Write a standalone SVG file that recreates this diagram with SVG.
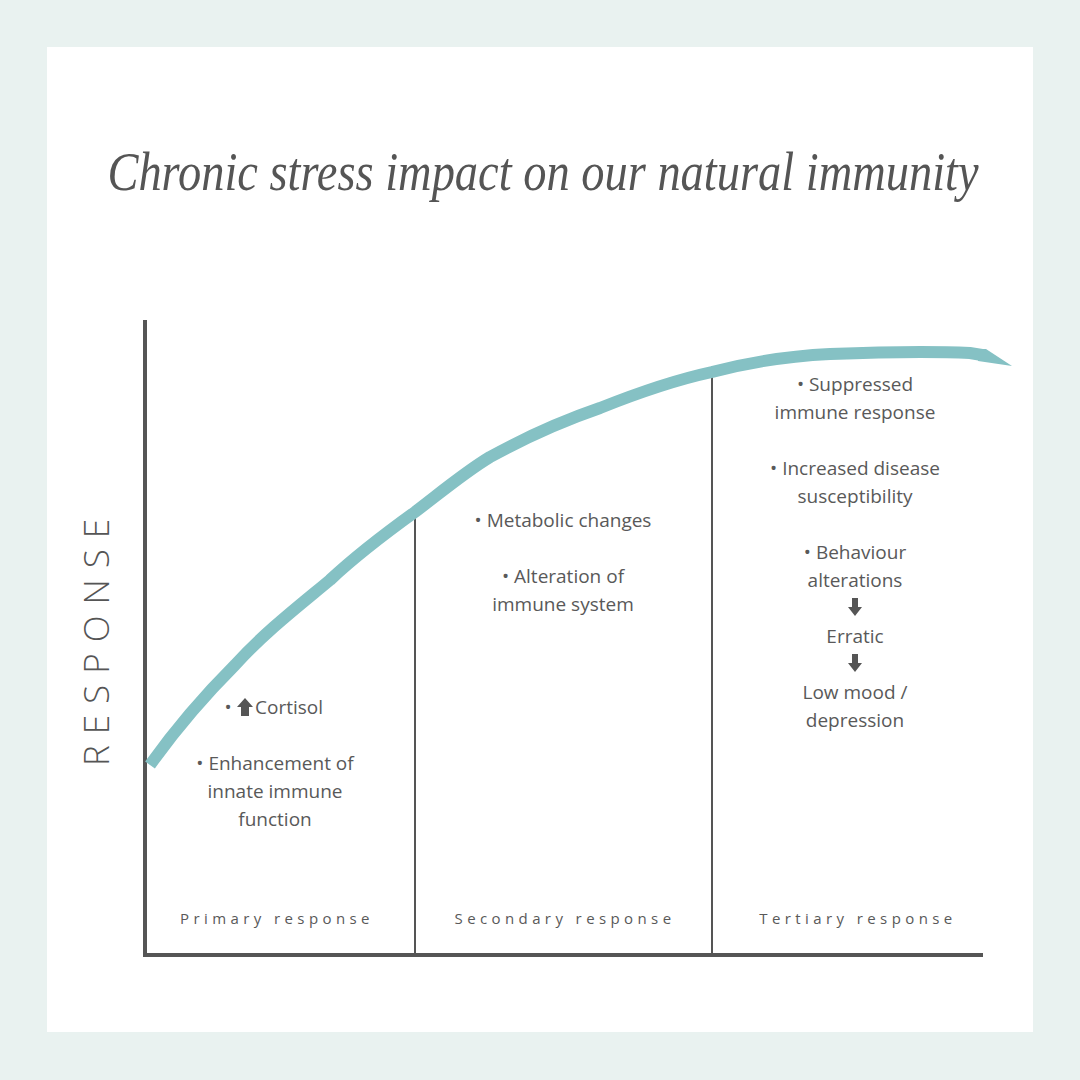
<svg xmlns="http://www.w3.org/2000/svg" width="1080" height="1080" viewBox="0 0 1080 1080">
<style>
.t{font-family:"Open Sans","Noto Sans",sans-serif;font-weight:400;font-size:19px;fill:#595959;text-anchor:middle}
.ts{text-anchor:start}
.lab{font-family:"Open Sans","Noto Sans",sans-serif;font-weight:400;font-size:15px;fill:#595959;text-anchor:middle;letter-spacing:4.4px}
.ax{stroke:#555;fill:none}
.arr{fill:#555}
</style>
<rect width="1080" height="1080" fill="#e9f2f0"/>
<rect x="47" y="47" width="986" height="985" fill="#ffffff"/>
<g id="title">
<text x="0" y="0" transform="translate(543,190) scale(0.86,1)" font-family="'Liberation Serif',serif" font-style="italic" font-size="54" fill="#555" text-anchor="middle">Chronic stress impact on our natural immunity</text>
</g>
<g id="axes">
<line class="ax" x1="145" y1="320" x2="145" y2="955" stroke-width="4"/>
<line class="ax" x1="143" y1="955" x2="983" y2="955" stroke-width="4"/>
<line class="ax" x1="415" y1="505" x2="415" y2="955" stroke-width="2"/>
<line class="ax" x1="712" y1="372" x2="712" y2="955" stroke-width="2"/>
</g>
<g id="y-label">
<text x="0" y="0" transform="translate(109,637) rotate(-90)" font-family="'Open Sans','Noto Sans',sans-serif" font-weight="300" font-size="35" fill="#555" text-anchor="middle" letter-spacing="11">RESPONSE</text>
</g>
<g id="curve">
<path d="M150,765 C175,730 205,695 235,665 C265,632 300,605 330,580 C360,552 390,530 415,512 C440,493 465,472 490,457 C530,435 565,420 600,408 C640,392 675,380 712,372 C750,362 790,356 830,354 C880,352 930,351 970,353 L982,355" stroke="#85c1c4" stroke-width="12" fill="none" stroke-linecap="butt"/>
<path d="M978,349 L986,349 L1012,366 L978,361 Z" fill="#85c1c4"/>
</g>
<g id="primary">
<text class="t" x="228" y="714">•</text>
<polygon class="arr" points="245,698 253,707 249,707 249,716 241,716 241,707 237,707"/>
<text class="t ts" x="255" y="714">Cortisol</text>
<text class="t" x="275" y="770">• Enhancement of</text>
<text class="t" x="275" y="798">innate immune</text>
<text class="t" x="275" y="826">function</text>
<text class="lab" x="277" y="924">Primary response</text>
</g>
<g id="secondary">
<text class="t" x="563" y="527">• Metabolic changes</text>
<text class="t" x="563" y="583">• Alteration of</text>
<text class="t" x="563" y="611">immune system</text>
<text class="lab" x="565" y="924">Secondary response</text>
</g>
<g id="tertiary">
<text class="t" x="855" y="391">• Suppressed</text>
<text class="t" x="855" y="419">immune response</text>
<text class="t" x="855" y="475">• Increased disease</text>
<text class="t" x="855" y="503">susceptibility</text>
<text class="t" x="855" y="559">• Behaviour</text>
<text class="t" x="855" y="587">alterations</text>
<polygon class="arr" points="852,598 858,598 858,607 862,607 855,616 848,607 852,607"/>
<text class="t" x="855" y="643">Erratic</text>
<polygon class="arr" points="852,654 858,654 858,663 862,663 855,672 848,663 852,663"/>
<text class="t" x="855" y="699">Low mood /</text>
<text class="t" x="855" y="727">depression</text>
<text class="lab" x="858" y="924">Tertiary response</text>
</g>
</svg>
